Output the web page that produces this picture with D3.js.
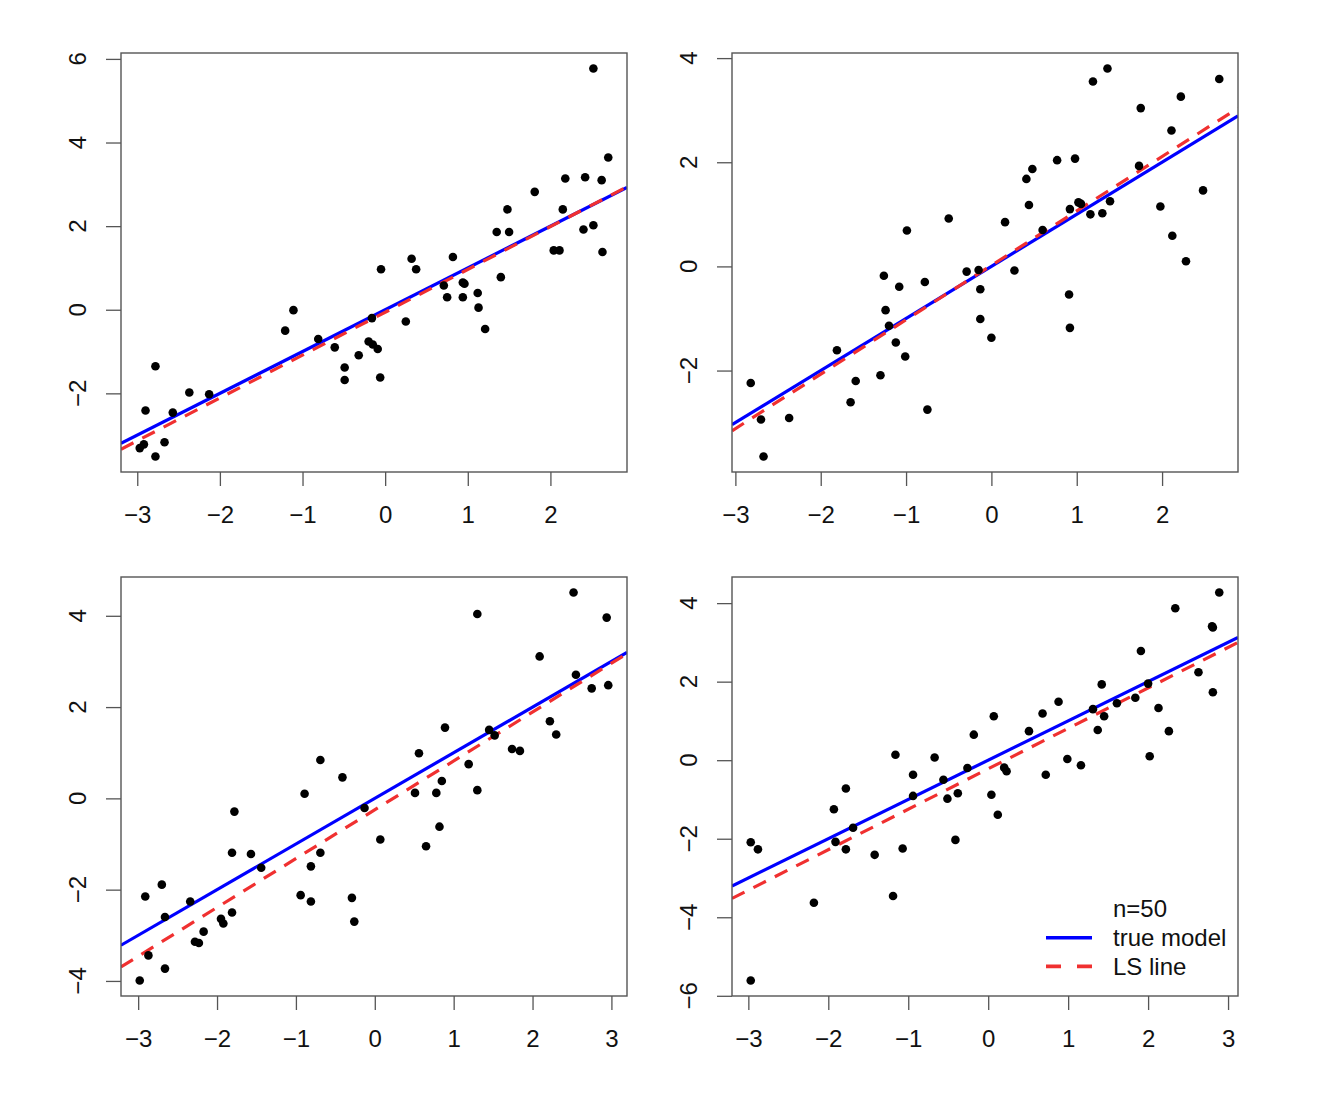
<!DOCTYPE html>
<html>
<head>
<meta charset="utf-8">
<script src="https://cdn.jsdelivr.net/npm/d3@7"></script>
<style>
  body { margin: 0; background: #fff; }
  svg text { font-family: "Liberation Sans", Arial, sans-serif; fill: #111; }
</style>
</head>
<body>
<script>
  // points (n=50 each)
  var p1x = [2.52, 2.70, 2.42, 2.62, 2.18, 1.81, 1.48, 2.15, 1.35, 1.50, 2.40, 2.52, 2.04, 2.11, 2.63, 1.40, 0.82,
             0.32, 0.375, -0.05, 0.71, 0.75, 0.94, 0.96, 0.94, 1.12, 1.13, 1.21, 0.25, -0.16, -1.11, -1.21, -0.81,
             -0.61, -0.32, -0.49, -0.49, -0.20, -0.15, -0.09, -0.06, -2.37, -2.13, -2.57, -2.78, -2.90, -2.67,
             -2.92, -2.97, -2.78];
  var p1y = [5.77, 3.64, 3.17, 3.10, 3.14, 2.82, 2.40, 2.40, 1.86, 1.86, 1.92, 2.02, 1.42, 1.42, 1.38, 0.78, 1.26,
             1.22, 0.97, 0.97, 0.58, 0.30, 0.65, 0.62, 0.30, 0.40, 0.05, -0.46, -0.28, -0.20, -0.01, -0.50, -0.70,
             -0.90, -1.09, -1.38, -1.68, -0.76, -0.83, -0.94, -1.62, -1.98, -2.02, -2.46, -1.35, -2.41, -3.17,
             -3.22, -3.31, -3.51];

  var p2x = [1.36, 1.19, 2.67, 2.22, 1.75, 2.11, 1.73, 0.77, 0.98, 0.48, 0.41, 0.44, 0.92, 1.02, 1.16, 1.30, 1.39,
             2.48, 1.98, 2.12, 2.28, 0.60, 0.16, -0.50, -0.99, 0.27, -0.29, -0.15, -0.13, -0.13, 0.00, 0.91, 0.92,
             -0.78, -1.26, -1.08, -1.24, -1.20, -1.12, -1.01, -1.81, -1.30, -1.59, -1.65, -0.75, -2.82, -2.70,
             -2.37, -2.67, 1.05];
  var p2y = [3.80, 3.55, 3.60, 3.26, 3.04, 2.61, 1.93, 2.04, 2.07, 1.87, 1.68, 1.18, 1.10, 1.23, 1.00, 1.02, 1.25,
             1.46, 1.15, 0.59, 0.10, 0.70, 0.85, 0.92, 0.69, -0.08, -0.10, -0.07, -0.44, -1.01, -1.37, -0.54, -1.18,
             -0.30, -0.18, -0.39, -0.84, -1.14, -1.46, -1.73, -1.61, -2.09, -2.20, -2.61, -2.75, -2.24, -2.94,
             -2.91, -3.65, 1.20];

  var p3x = [2.52, 1.30, 2.94, 2.09, 2.55, 2.75, 2.96, 2.22, 2.30, 1.45, 1.52, 0.89, 1.74, 1.84, 1.19, 0.56, 1.30,
             0.51, 0.78, 0.85, 0.82, 0.65, 0.07, -0.13, -0.69, -0.41, -0.89, -0.69, -0.81, -0.94, -0.81, -0.29,
             -0.26, -1.78, -1.81, -1.57, -1.44, -1.81, -1.95, -1.92, -2.17, -2.28, -2.23, -2.34, -2.70, -2.91,
             -2.66, -2.87, -2.66, -2.98];
  var p3y = [4.51, 4.04, 3.96, 3.11, 2.71, 2.41, 2.48, 1.69, 1.40, 1.50, 1.38, 1.55, 1.08, 1.04, 0.75, 0.99, 0.18,
             0.12, 0.12, 0.38, -0.62, -1.05, -0.90, -0.21, 0.84, 0.46, 0.10, -1.19, -1.49, -2.12, -2.26, -2.18,
             -2.70, -0.29, -1.19, -1.22, -1.52, -2.50, -2.64, -2.74, -2.92, -3.14, -3.17, -2.26, -1.89, -2.15,
             -2.60, -3.44, -3.73, -3.99];

  var p4x = [2.89, 2.34, 2.80, 2.81, 1.91, 2.63, 2.81, 1.42, 1.61, 1.84, 2.13, 2.26, 2.02, 1.31, 1.45, 1.37, 0.88,
             0.68, 0.51, 0.07, -0.18, 0.99, 1.16, 0.72, 0.20, 0.23, 0.04, 0.12, -0.26, -0.67, -1.16, -0.94, -0.56,
             -0.51, -0.38, -0.94, -0.41, -1.07, -1.19, -1.42, -1.78, -1.93, -1.69, -1.91, -1.78, -2.18, -2.97,
             -2.88, -2.97, 2.00];
  var p4y = [4.27, 3.87, 3.41, 3.38, 2.78, 2.24, 1.73, 1.93, 1.45, 1.59, 1.33, 0.74, 0.10, 1.30, 1.12, 0.77, 1.49,
             1.19, 0.74, 1.12, 0.65, 0.03, -0.13, -0.37, -0.19, -0.28, -0.88, -1.39, -0.20, 0.07, 0.14, -0.37, -0.50,
             -0.98, -0.84, -0.91, -2.03, -2.25, -3.46, -2.41, -0.72, -1.25, -1.72, -2.08, -2.27, -3.63, -2.09,
             -2.27, -5.61, 1.95];

  // lines: [intercept, slope]
  var trueModel = [[0, 1], [0, 1], [0, 1], [0, 1]];
  var lsLine = [[-0.06, 1.025], [0.02, 1.045], [-0.25, 1.07], [-0.22, 1.03]];

  var xTicks = [[-3, -2, -1, 0, 1, 2], [-3, -2, -1, 0, 1, 2], [-3, -2, -1, 0, 1, 2, 3], [-3, -2, -1, 0, 1, 2, 3]];
  var yTicks = [[-2, 0, 2, 4, 6], [-2, 0, 2, 4], [-4, -2, 0, 2, 4], [-6, -4, -2, 0, 2, 4]];

  var legendLabels = ["n=50", "true model", "LS line"];

  var panels = [
    {xs: p1x, ys: p1y, left: 121, top: 53},
    {xs: p2x, ys: p2y, left: 732, top: 53},
    {xs: p3x, ys: p3y, left: 121, top: 577},
    {xs: p4x, ys: p4y, left: 732, top: 577}
  ];
  var pw = 506, ph = 419;
  var fmt = d3.format("d");

  var svg = d3.select("body").append("svg")
      .attr("width", 1326)
      .attr("height", 1118);

  // R style limits: data range stretched 4% each side
  function rRange(v) {
    var e = d3.extent(v), d = (e[1] - e[0]) * 0.04;
    return [e[0] - d, e[1] + d];
  }

  panels.forEach(function(p, i) {
    var x = d3.scaleLinear().domain(rRange(p.xs)).range([0, pw]);
    var y = d3.scaleLinear().domain(rRange(p.ys)).range([ph, 0]);

    var g = svg.append("g")
        .attr("transform", "translate(" + p.left + "," + p.top + ")");

    g.append("clipPath").attr("id", "clip" + i)
      .append("rect").attr("width", pw).attr("height", ph);

    // axes
    var ax = g.append("g")
        .attr("transform", "translate(0," + ph + ")")
        .call(d3.axisBottom(x).tickValues(xTicks[i]).tickFormat(fmt).tickSize(14).tickPadding(20));
    var ay = g.append("g")
        .call(d3.axisLeft(y).tickValues(yTicks[i]).tickSize(15).tickFormat(function() { return ""; }));

    [ax, ay].forEach(function(a) {
      a.select(".domain").remove();
      a.selectAll("line").attr("stroke", "#555").attr("stroke-width", 1.3);
    });
    ax.selectAll("text")
      .attr("font-size", "24px")
      .attr("fill", "#111");

    // rotated y labels like R (las = 0)
    g.selectAll(".ylab")
      .data(yTicks[i])
      .enter().append("text")
      .attr("class", "ylab")
      .attr("transform", function(d) { return "translate(-43," + y(d) + ") rotate(-90)"; })
      .attr("text-anchor", "middle")
      .attr("dy", "0.35em")
      .attr("font-size", "24px")
      .text(function(d) { return fmt(d); });

    // regression lines
    var dom = x.domain();
    var lines = g.append("g").attr("clip-path", "url(#clip" + i + ")");
    lines.append("line")
      .attr("x1", x(dom[0])).attr("x2", x(dom[1]))
      .attr("y1", y(trueModel[i][0] + trueModel[i][1] * dom[0]))
      .attr("y2", y(trueModel[i][0] + trueModel[i][1] * dom[1]))
      .attr("stroke", "#0000ff")
      .attr("stroke-width", 3.2);
    lines.append("line")
      .attr("x1", x(dom[0])).attr("x2", x(dom[1]))
      .attr("y1", y(lsLine[i][0] + lsLine[i][1] * dom[0]))
      .attr("y2", y(lsLine[i][0] + lsLine[i][1] * dom[1]))
      .attr("stroke", "#f03030")
      .attr("stroke-width", 3.2)
      .attr("stroke-dasharray", "14,10");

    // points
    g.selectAll("circle")
      .data(p.xs)
      .enter().append("circle")
      .attr("cx", function(d) { return x(d); })
      .attr("cy", function(d, j) { return y(p.ys[j]); })
      .attr("r", 4.3)
      .attr("fill", "#000");

    // frame
    g.append("rect")
      .attr("width", pw).attr("height", ph)
      .attr("fill", "none")
      .attr("stroke", "#555")
      .attr("stroke-width", 1.4);
  });

  // legend (bottom right panel, no box)
  var leg = svg.append("g").attr("transform", "translate(1046,909)");
  leg.selectAll("text")
    .data(legendLabels)
    .enter().append("text")
    .attr("x", 67)
    .attr("y", function(d, i) { return i * 28.7; })
    .attr("dy", "0.35em")
    .attr("font-size", "24px")
    .text(function(d) { return d; });
  leg.append("line")
    .attr("x1", 0).attr("x2", 46).attr("y1", 28.7).attr("y2", 28.7)
    .attr("stroke", "#0000ff").attr("stroke-width", 3.6);
  leg.append("line")
    .attr("x1", 0).attr("x2", 46).attr("y1", 57.4).attr("y2", 57.4)
    .attr("stroke", "#f03030").attr("stroke-width", 3.6)
    .attr("stroke-dasharray", "15,16");
</script>
</body>
</html>
